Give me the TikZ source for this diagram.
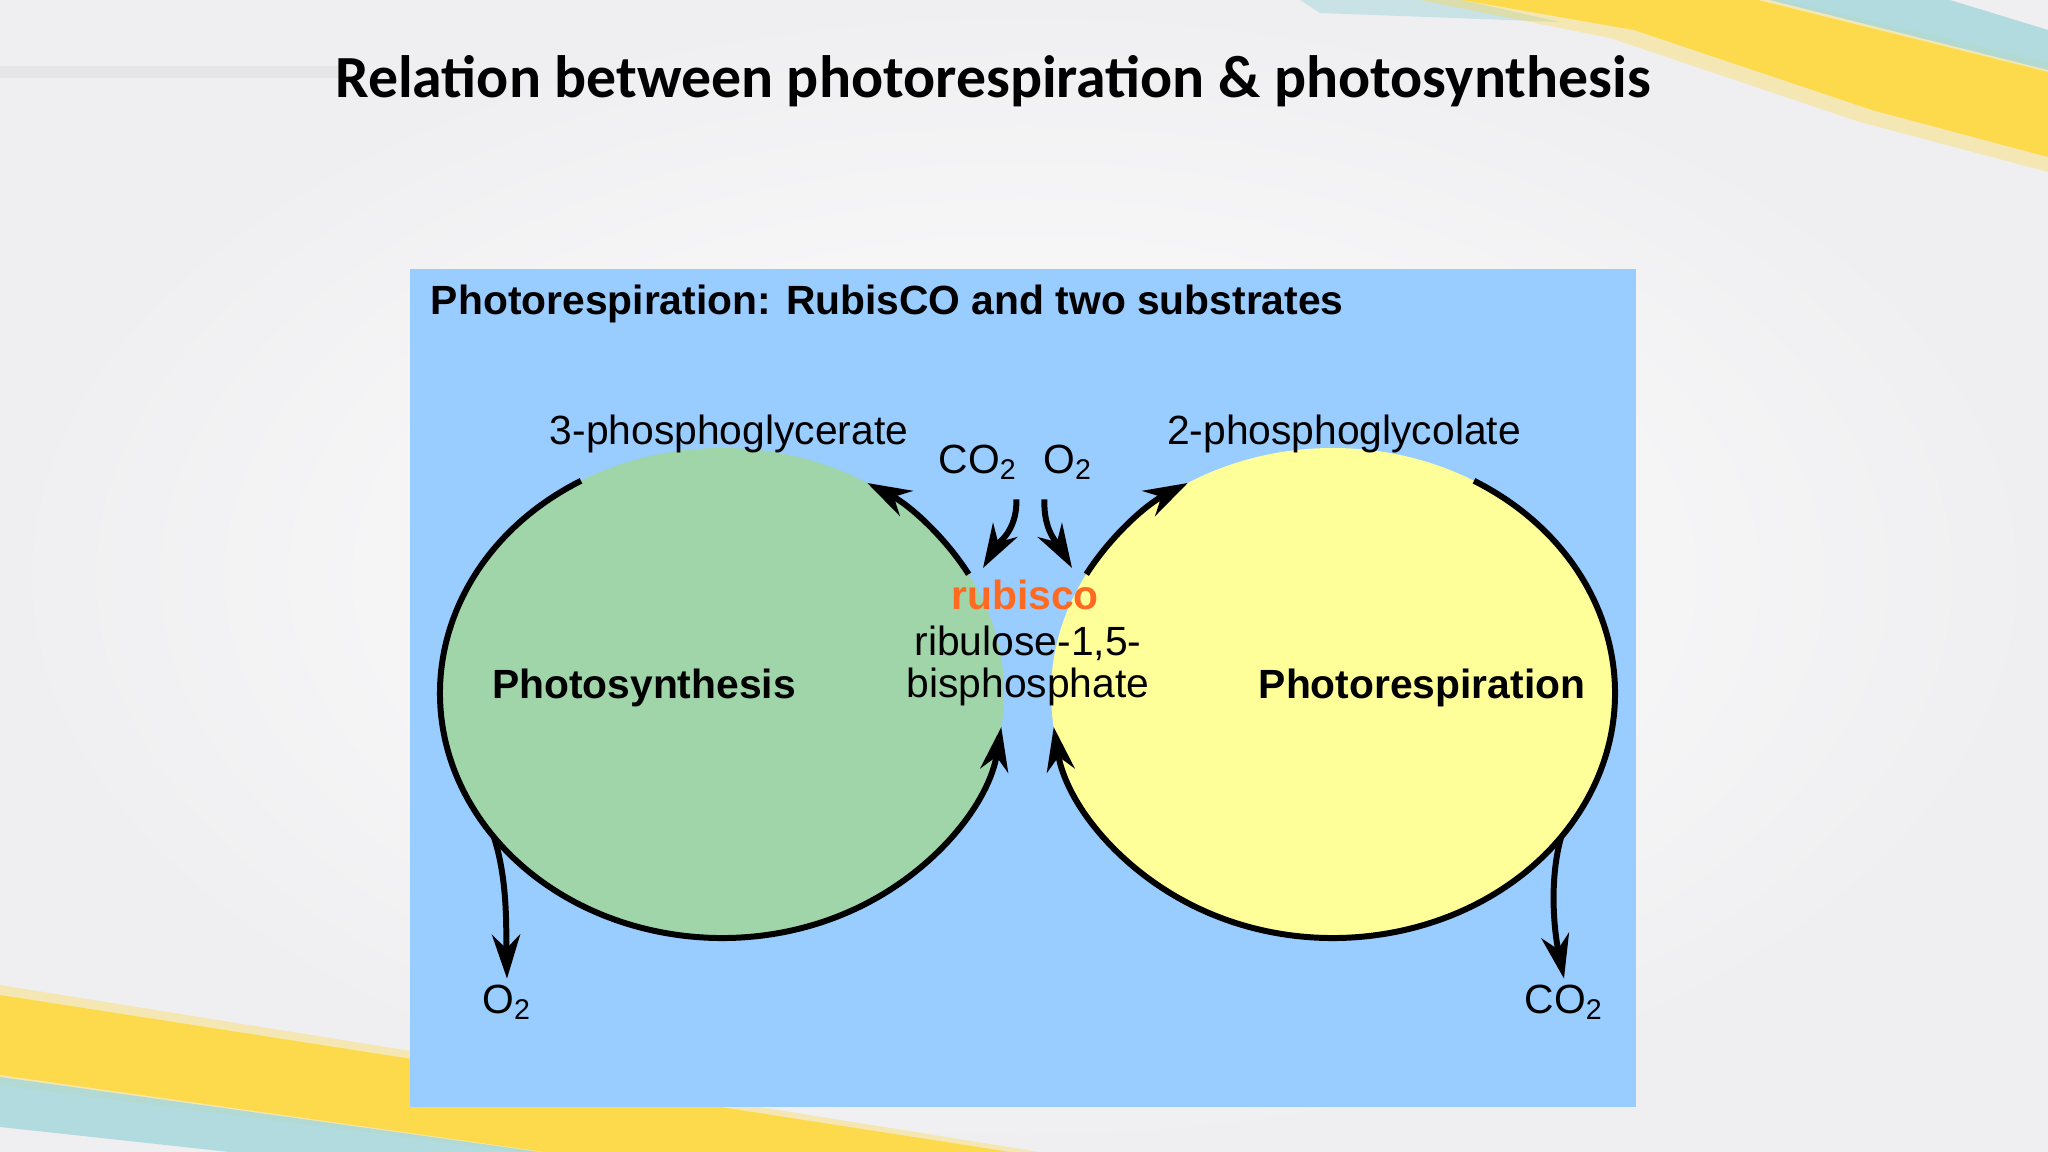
\documentclass[tikz,border=0pt]{standalone}
\usepackage{fontspec}
\setmainfont{Liberation Sans}
\newfontfamily\titlefont{Carlito}
\usetikzlibrary{arrows.meta, calc}

\definecolor{panelblue}{HTML}{99CCFF}
\definecolor{cyclegreen}{HTML}{9FD5A9}
\definecolor{cycleyellow}{HTML}{FFFF99}
\definecolor{rubiscoorange}{HTML}{FF6A21}
\definecolor{stripeyellow}{HTML}{FFD940}
\definecolor{stripeteal}{HTML}{A3D6DC}
\definecolor{slidegray}{HTML}{EFEFF1}

\begin{document}
\begin{tikzpicture}[x=0.01cm, y=-0.01cm,
  label/.style={font=\fontsize{11.6}{12}\selectfont, inner sep=1.5pt},
  bold label/.style={label, font=\fontsize{11.6}{12}\selectfont\bfseries},
  cycle arrow/.style={line width=1.7pt, -{Stealth[length=12.5pt, width=8pt, inset=4pt]}}]
\useasboundingbox (0,0) rectangle (2048,1152);
% Draw slide background
\shade[inner color=white, outer color=slidegray] (0,0) rectangle (2048,1152);
\fill[black, opacity=0.04] (0,66) rectangle (340,78);
% Draw stripes top right
\fill[stripeteal, opacity=0.5] (1300,0) -- (1462,0) -- (1560,22) -- (1320,13) -- cycle;
\fill[stripeyellow, opacity=0.35] (1420,0) -- (1780,0) -- (2048,62) -- (2048,172) -- (1860,122) -- (1610,38) -- cycle;
\fill[stripeyellow, opacity=0.9] (1462,0) -- (1758,0) -- (2048,72) -- (2048,157) -- (1872,110) -- (1634,30) -- cycle;
\fill[stripeteal, opacity=0.8] (1770,0) -- (1950,0) -- (2048,30) -- (2048,70) -- cycle;
% Draw stripes bottom left
\fill[stripeyellow, opacity=0.35] (0,985) -- (1040,1152) -- (520,1152) -- (0,1085) -- cycle;
\fill[stripeyellow, opacity=0.9] (0,995) -- (1010,1152) -- (545,1152) -- (0,1075) -- cycle;
\fill[stripeteal, opacity=0.8] (0,1077) -- (540,1152) -- (230,1152) -- (0,1127) -- cycle;
% Draw blue panel
\fill[panelblue] (410,269) rectangle (1636,1107);
\node[bold label, anchor=west] (panel) at (425,304) {Photorespiration: RubisCO and two substrates};
% Draw title
\node[font=\titlefont\bfseries\fontsize{17}{21}\selectfont] (title) at (993,81) {Relation between photorespiration \& photosynthesis};
% Centres of the two cycles
\coordinate (ps) at (722,693);
\coordinate (pr) at (1333,693);
\fill[cyclegreen] (ps) ellipse [x radius=282, y radius=245];
\fill[cycleyellow] (pr) ellipse [x radius=282, y radius=245];
% Points on the cycles
\coordinate (ps-start) at ($(ps)+(240:282 and 245)$);
\coordinate (ps-rub) at ($(ps)+(-29:282 and 245)$);
\coordinate (ps-out) at ($(ps)+(144:282 and 245)$);
\coordinate (pr-start) at ($(pr)+(300:282 and 245)$);
\coordinate (pr-rub) at ($(pr)+(209:282 and 245)$);
\coordinate (pr-out) at ($(pr)+(36:282 and 245)$);
\coordinate (rub-co2) at (983,568);
\coordinate (rub-o2) at (1072,568);
% Labels
\node[label] (pga) at (729,434) {3-phosphoglycerate};
\node[label] (pgo) at (1344,434) {2-phosphoglycolate};
\node[label] (co2in) at (978,462) {CO\textsubscript{2}};
\node[label] (o2in) at (1068,462) {O\textsubscript{2}};
\node[bold label, text=rubiscoorange] (rubisco) at (1025,595) {rubisco};
\node[label, align=center] (rubp) at (1028,666) {ribulose-1,5-\\bisphosphate};
\node[bold label] (psyn) at (644,688) {Photosynthesis};
\node[bold label] (presp) at (1422,688) {Photorespiration};
\node[label] (o2out) at (507,1002) {O\textsubscript{2}};
\node[label] (co2out) at (1564,1002) {CO\textsubscript{2}};
% Draw the cycles
\draw[cycle arrow] (ps-start) arc[start angle=240, end angle=8, x radius=282, y radius=245];
\draw[cycle arrow] (ps-rub) arc[start angle=-29, end angle=-59, x radius=282, y radius=245];
\draw[cycle arrow] (pr-start) arc[start angle=300, end angle=532, x radius=282, y radius=245];
\draw[cycle arrow] (pr-rub) arc[start angle=209, end angle=239, x radius=282, y radius=245];
% Gases in and out
\draw[cycle arrow] ([xshift=-2pt, yshift=-4pt]co2in.south east) .. controls +(1,32) and +(14,-24) .. (rub-co2);
\draw[cycle arrow] ([xshift=2pt, yshift=-4pt]o2in.south west) .. controls +(-1,32) and +(-14,-24) .. (rub-o2);
\draw[cycle arrow] (ps-out) .. controls (508,880) and (506,930) .. (o2out.north);
\draw[cycle arrow] (pr-out) .. controls (1549,880) and (1554,930) .. (co2out.north);
\end{tikzpicture}
\end{document}
